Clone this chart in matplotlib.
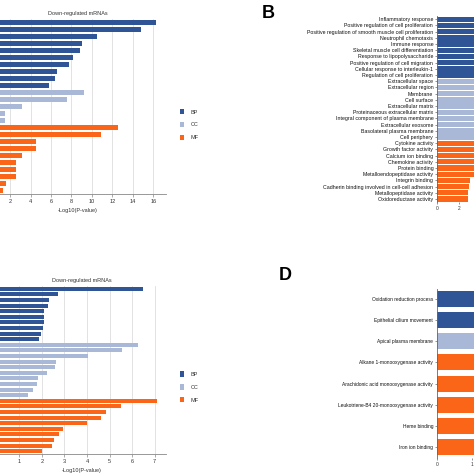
import matplotlib
matplotlib.use("Agg")
import matplotlib.pyplot as plt
from matplotlib.patches import Patch
import numpy as np

plt.rcParams['font.family'] = ['Liberation Sans', 'DejaVu Sans']

# ---------------- data ----------------
C_BP = "#2F5597"
C_CC = "#A8B8D6"
C_MF = "#FA6518"

# Panel A (top-left): Down-regulated mRNAs
a_bp = [16.3, 14.8, 10.5, 9.0, 8.8, 8.2, 7.8, 6.6, 6.4, 5.8]
a_cc = [9.2, 7.6, 3.2, 1.5, 1.5]
a_mf = [12.6, 10.9, 4.5, 4.5, 3.2, 2.6, 2.6, 2.6, 1.6, 1.35]
a_xticks = [2, 4, 6, 8, 10, 12, 14, 16]

# Panel B (top-right)
b_bp_terms = ["Inflammatory response",
              "Positive regulation of cell proliferation",
              "Positive regulation of smooth muscle cell proliferation",
              "Neutrophil chemotaxis",
              "Immune response",
              "Skeletal muscle cell differentiation",
              "Response to lipopolysaccharide",
              "Positive regulation of cell migration",
              "Cellular response to interleukin-1",
              "Regulation of cell proliferation"]
b_cc_terms = ["Extracellular space",
              "Extracellular region",
              "Membrane",
              "Cell surface",
              "Extracellular matrix",
              "Proteinaceous extracellular matrix",
              "Integral component of plasma membrane",
              "Extracellular exosome",
              "Basolateral plasma membrane",
              "Cell periphery"]
b_mf_terms = ["Cytokine activity",
              "Growth factor activity",
              "Calcium ion binding",
              "Chemokine activity",
              "Protein binding",
              "Metalloendopeptidase activity",
              "Integrin binding",
              "Cadherin binding involved in cell-cell adhesion",
              "Metallopeptidase activity",
              "Oxidoreductase activity"]
b_bp = [9.0, 7.5, 6.0, 5.5, 5.2, 5.0, 4.8, 4.6, 4.4, 4.2]
b_cc = [8.0, 6.5, 5.0, 4.8, 4.6, 4.4, 4.2, 4.0, 3.9, 3.8]
b_mf = [6.0, 5.0, 4.5, 4.2, 4.0, 3.8, 3.0, 2.9, 2.85, 2.8]
b_xticks = [0, 2]

# Panel C (bottom-left): Down-regulated mRNAs
c_bp = [6.46, 2.73, 2.33, 2.28, 2.10, 2.10, 2.08, 2.05, 1.97, 1.86]
c_cc = [6.25, 5.56, 4.05, 2.62, 2.58, 2.24, 1.84, 1.80, 1.63, 1.38]
c_mf = [7.10, 5.51, 4.85, 4.60, 4.01, 2.92, 2.74, 2.52, 2.46, 1.99]
c_xticks = [1, 2, 3, 4, 5, 6, 7]

# Panel D (bottom-right)
d_terms = ["Oxidation reduction process",
           "Epithelial cilium movement",
           "Apical plasma membrane",
           "Alkane 1-monooxygenase activity",
           "Arachidonic acid monooxygenase activity",
           "Leukotriene-B4 20-monooxygenase activity",
           "Heme binding",
           "Iron ion binding"]
d_cat = ["BP", "BP", "CC", "MF", "MF", "MF", "MF", "MF"]
d_vals = [2.5, 2.4, 2.2, 2.6, 2.6, 2.6, 2.4, 2.3]
d_xticks = [0, 1]

legend_labels = ["BP", "CC", "MF"]

# ---------------- helpers ----------------
W = H = 474.0
fig = plt.figure(figsize=(4.74, 4.74), dpi=100)


def px_axes(left, top, right, bottom):
    return fig.add_axes([left / W, 1 - bottom / H, (right - left) / W, (bottom - top) / H])


cmap = {"BP": C_BP, "CC": C_CC, "MF": C_MF}
TXT = "#333333"


def grouped(bp, cc, mf):
    vals = list(bp) + list(cc) + list(mf)
    cols = [C_BP] * len(bp) + [C_CC] * len(cc) + [C_MF] * len(mf)
    return vals, cols


def left_panel(ax, vals, cols, xmax, xticks, height):
    n = len(vals)
    y = np.arange(n)
    ax.set_axisbelow(True)
    ax.grid(axis='x', color='#dddddd', lw=0.6)
    ax.barh(y, vals, height=height, color=cols)
    ax.set_ylim(n - 0.5, -0.5)
    ax.set_xlim(0, xmax)
    ax.set_yticks([])
    ax.set_xticks(xticks)
    ax.tick_params(axis='x', labelsize=4, length=2, width=0.5, pad=1.5,
                   colors='#888888', labelcolor=TXT)
    for s in ['top', 'right', 'left']:
        ax.spines[s].set_visible(False)
    ax.spines['bottom'].set_color('#888888')
    ax.spines['bottom'].set_linewidth(0.6)
    ax.set_title("Down-regulated mRNAs", fontsize=4, color=TXT, pad=3)
    ax.set_xlabel("-Log10(P-value)", fontsize=4, color=TXT, labelpad=3)


def right_panel(ax, vals, cols, labels, xmax, xticks, height, labelsize):
    n = len(vals)
    y = np.arange(n)
    ax.barh(y, vals, height=height, color=cols)
    ax.set_ylim(n - 0.5, -0.5)
    ax.set_xlim(0, xmax)
    ax.set_yticks(y)
    ax.set_yticklabels(labels, fontsize=labelsize, color='#111111')
    ax.set_xticks(xticks)
    ax.tick_params(axis='x', labelsize=3.5, length=1.5, width=0.5, pad=1.5,
                   colors='#666666', labelcolor=TXT)
    ax.tick_params(axis='y', length=1.5, width=0.5, pad=1.2, colors='#666666',
                   labelcolor='#111111')
    for s in ['top', 'right', 'bottom']:
        ax.spines[s].set_visible(False)
    ax.spines['left'].set_color('#666666')
    ax.spines['left'].set_linewidth(0.6)


handles = [Patch(facecolor=cmap[k], edgecolor='none') for k in legend_labels]

# ---------------- Panel A ----------------
va, ca = grouped(a_bp, a_cc, a_mf)
axA = px_axes(-10.4, 18.8, 165.5, 194.0)
left_panel(axA, va, ca, 17.2, a_xticks, 0.72)
fig.legend(handles, legend_labels, loc='center left',
           bbox_to_anchor=(175 / W, 1 - 124.5 / H), frameon=False, fontsize=4,
           handlelength=0.7, handleheight=1.1, labelspacing=1.3, handletextpad=1.2,
           labelcolor=TXT)

# ---------------- Panel B ----------------
vb, cb = grouped(b_bp, b_cc, b_mf)
axB = px_axes(437, 16.2, 437 + 11 * 10, 202.1)
right_panel(axB, vb, cb, b_bp_terms + b_cc_terms + b_mf_terms, 10, b_xticks, 0.86, 3.75)
fig.text(262 / W, 1 - 18 / H, "B", fontsize=13, fontweight='bold', va='baseline', ha='left')

# ---------------- Panel C ----------------
vc, cc_ = grouped(c_bp, c_cc, c_mf)
axC = px_axes(-3.3, 286.0, 166.0, 454.0)
left_panel(axC, vc, cc_, 7.5, c_xticks, 0.72)
fig.legend(handles, legend_labels, loc='center left',
           bbox_to_anchor=(175 / W, 1 - 387 / H), frameon=False, fontsize=4,
           handlelength=0.7, handleheight=1.1, labelspacing=1.3, handletextpad=1.2,
           labelcolor=TXT)

# ---------------- Panel D ----------------
cd = [cmap[k] for k in d_cat]
axD = px_axes(437, 288.5, 437 + 35 * 3, 457.5)
right_panel(axD, d_vals, cd, d_terms, 3, d_xticks, 0.76, 3.5)
fig.text(279 / W, 1 - 280 / H, "D", fontsize=13, fontweight='bold', va='baseline', ha='left')

fig.savefig("out.png", dpi=100)
